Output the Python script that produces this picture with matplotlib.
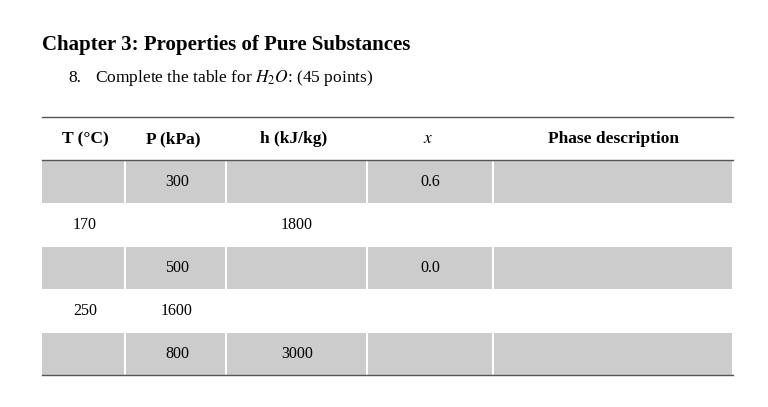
import matplotlib
matplotlib.use("Agg")
import matplotlib.pyplot as plt
from matplotlib.patches import Rectangle

headers = ["T (°C)", "P (kPa)", "h (kJ/kg)", r"$\boldsymbol{x}$", "Phase description"]
T_vals = ["", "170", "", "250", ""]
P_vals = ["300", "", "500", "1600", "800"]
h_vals = ["", "1800", "", "", "3000"]
x_vals = ["0.6", "", "0.0", "", ""]
phase_vals = ["", "", "", "", ""]

plt.rcParams['font.family'] = ['Liberation Serif', 'DejaVu Serif']
plt.rcParams['mathtext.fontset'] = 'stix'
fig = plt.figure(figsize=(7.68, 4.07), dpi=100)
ax = fig.add_axes([0, 0, 1, 1])
ax.set_xlim(0, 768); ax.set_ylim(407, 0); ax.axis('off')

ax.text(42, 45, "Chapter 3: Properties of Pure Substances", fontsize=15, fontweight='bold', va='center')
ax.text(68, 78, "8.", fontsize=12.5, va='center')
ax.text(95, 78, "Complete the table for $H_2O$: (45 points)", fontsize=12.5, va='center')

left, right = 42, 733
colb = [42, 125, 226, 367, 493, 733]
colc = [85, 173, 294, 428, 614]
ax.plot([left, right], [117, 117], color='#555555', lw=1)
ax.plot([left, right], [160, 160], color='#555555', lw=1)
for c, hd in zip(colc, headers):
    t = hd if not hd.startswith('$') else r"$\mathit{x}$"
    ax.text(c, 139, t, fontsize=12.5, fontweight='bold', ha='center', va='center')

rows = list(zip(T_vals, P_vals, h_vals, x_vals, phase_vals))
rh = 43
for i, r in enumerate(rows):
    y0 = 161 + i * rh
    if i % 2 == 0:
        for j in range(5):
            ax.add_patch(Rectangle((colb[j] + (1 if j else 0), y0), colb[j+1] - colb[j] - (2 if j else 1), rh - 1,
                                   facecolor='#cccccc', edgecolor='none'))
    for c, v in zip([85, 177, 297, 430, 614], r):
        ax.text(c, y0 + 21, v, fontsize=11.5, ha='center', va='center')
ax.plot([left, right], [161 + 5 * rh - 1, 161 + 5 * rh - 1], color='#555555', lw=1)

fig.savefig("out.png", dpi=100)
